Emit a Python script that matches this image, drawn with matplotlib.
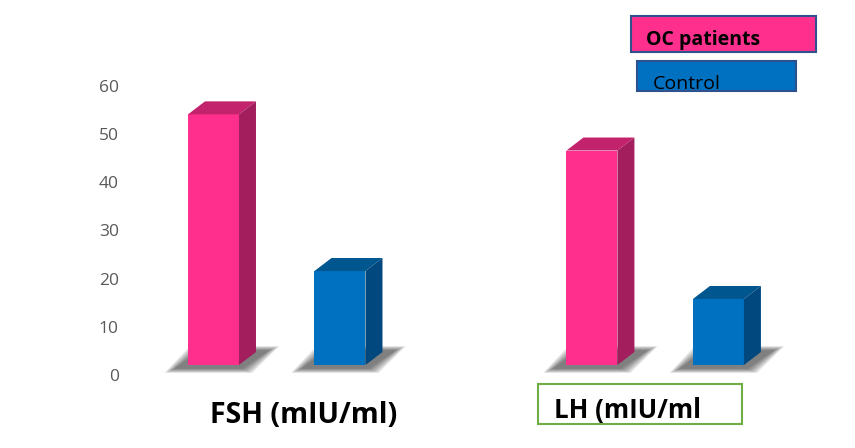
import matplotlib
matplotlib.use("Agg")
import matplotlib.pyplot as plt
from matplotlib.patches import Polygon, Rectangle
from matplotlib.transforms import ScaledTranslation

# ---- data ----
categories = ["FSH (mIU/ml)", "LH (mIU/ml"]
series = ["OC patients", "Control"]
oc_values = [52.0, 44.5]
control_values = [19.5, 13.7]
yticks = [0, 10, 20, 30, 40, 50, 60]

# ---- styles ----
front_col = {"OC patients": "#FF2F8E", "Control": "#0070C0"}
top_col = {"OC patients": "#C3226C", "Control": "#00568F"}
side_col = {"OC patients": "#A21E5C", "Control": "#00487D"}

W, H = 855, 448
fig = plt.figure(figsize=(W / 100, H / 100), dpi=100)
fig.patch.set_facecolor("white")
ax = fig.add_axes([130 / W, 0, 1 - 130 / W, 1])
ax.set_xlim(-0.3877, 1.528)
ax.set_ylim(-17.22, 75.73)
for s in ax.spines.values():
    s.set_visible(False)
ax.set_xticks([])
ax.set_yticks(yticks)
ax.set_yticklabels([str(t) for t in yticks])
ax.tick_params(axis="y", length=0, pad=8, labelsize=12.5, labelcolor="#595959")
for lbl in ax.get_yticklabels():
    lbl.set_fontfamily("Open Sans")
    lbl.set_transform(lbl.get_transform() + ScaledTranslation(0, -0.10, fig.dpi_scale_trans))

# pixel -> data conversion for the 3D depth
fig.canvas.draw()
p0 = ax.transData.transform((0, 0))
p1 = ax.transData.transform((1, 1))
ppx = p1[0] - p0[0]
ppy = p1[1] - p0[1]
dx = 17 / ppx
dy = 13 / ppy

bar_w = 51 / ppx
offset = 63.25 / ppx


def draw_bar(xc, v, name):
    x0, x1 = xc - bar_w / 2, xc + bar_w / 2
    # soft floor shadow
    for k in range(7, 0, -1):
        ex = k * 1.6 / ppx
        ey = k * 0.7 / ppy
        pts = [(x0 - 12 / ppx - ex, -3 / ppy - ey), (x1 + 2 / ppx + ex, -3 / ppy - ey),
               (x1 + dx + 12 / ppx + ex, dy + 1 / ppy + ey), (x0 + dx - 4 / ppx - ex, dy + 1 / ppy + ey)]
        ax.add_patch(Polygon(pts, closed=True, fc="#202020", ec="none", alpha=0.11, zorder=1))
    ax.add_patch(Rectangle((x0, 0), bar_w, v, fc=front_col[name], ec="none", zorder=3))
    ax.add_patch(Polygon([(x0, v), (x1, v), (x1 + dx, v + dy), (x0 + dx, v + dy)],
                         closed=True, fc=top_col[name], ec="none", zorder=3))
    ax.add_patch(Polygon([(x1, 0), (x1 + dx, dy), (x1 + dx, v + dy), (x1, v)],
                         closed=True, fc=side_col[name], ec="none", zorder=3))


for i in range(len(categories)):
    draw_bar(i - offset, oc_values[i], series[0])
    draw_bar(i + offset, control_values[i], series[1])


def fx(x):
    return x / W


def fy(y):
    return 1 - y / H


def box(x0, y0, x1, y1, fc, ec, lw=1.5):
    fig.add_artist(Rectangle((fx(x0), fy(y1)), (x1 - x0) / W, (y1 - y0) / H,
                             transform=fig.transFigure, fc=fc, ec=ec, lw=lw, zorder=5))


# legend boxes
box(631, 16, 816, 52, front_col[series[0]], "#2F528F")
fig.text(fx(646), fy(45), series[0], fontsize=14, fontweight="bold", family="Open Sans",
         color="black", va="baseline", ha="left", zorder=6)
box(637, 61, 796, 91, front_col[series[1]], "#2F528F")
fig.text(fx(653), fy(89), series[1], fontsize=14, family="Open Sans",
         color="black", va="baseline", ha="left", zorder=6)

# category labels
fig.text(fx(210), fy(423), categories[0], fontsize=20.5, fontweight="bold", family="Open Sans",
         color="black", va="baseline", ha="left", zorder=6)
box(538, 384, 742, 424, "white", "#70AD47")
fig.text(fx(554), fy(418), categories[1], fontsize=18.5, fontweight="bold", family="Open Sans",
         color="black", va="baseline", ha="left", zorder=6)

fig.savefig("out.png", dpi=100)
